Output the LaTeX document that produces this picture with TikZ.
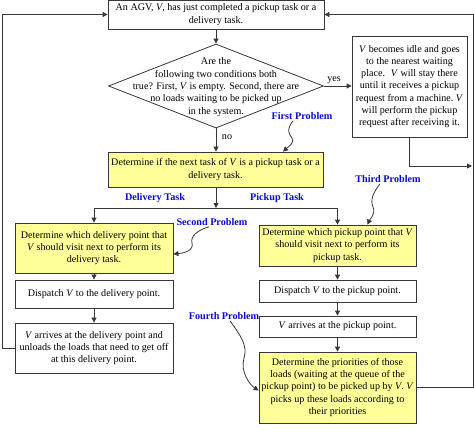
\documentclass[tikz,border=0pt]{standalone}
\usepackage{fontspec}
\setmainfont{Liberation Serif}
\usetikzlibrary{arrows.meta,shapes.geometric}
\definecolor{boxyellow}{RGB}{255,255,153}
\definecolor{probblue}{RGB}{10,10,210}
\definecolor{linegray}{RGB}{55,55,55}

\begin{document}
\begin{tikzpicture}[
  x=1pt, y=-1pt,
  b/.style={draw=linegray, line width=0.8pt, align=center, inner sep=2pt, font=\fontsize{10.1}{12.3}\selectfont, fill=white},
  yb/.style={b, fill=boxyellow},
  a/.style={-{Triangle[length=5pt,width=5pt]}, draw=linegray, line width=0.8pt},
  p/.style={font=\fontsize{10.2}{12}\selectfont\bfseries, text=probblue, inner sep=1pt},
  l/.style={font=\fontsize{10.1}{12}\selectfont, inner sep=1pt}
]
\useasboundingbox (0,0) rectangle (474,439);

% top of the loop
\node[b, minimum width=216pt, minimum height=29pt] (start) at (216,14.5) {An AGV, \textit{V}, has just completed a pickup task or a\\ delivery task.};
\node[draw=linegray, line width=0.8pt, fill=white, diamond, minimum width=215pt, minimum height=84pt, inner sep=0pt] (cond) at (216,86) {};
\node[b, draw=none, fill=none] (condtxt) at (216,87) {Are the\\ following two conditions both\\ true? First, \textit{V} is empty. Second, there are\\ no loads waiting to be picked up\\ in the system.};
\node[b, minimum width=115pt, minimum height=101pt] (idle) at (409.5,86.5) {\textit{V} becomes idle and goes\\ to the nearest waiting\\ place.~ \textit{V} will stay there\\ until it receives a pickup\\ request from a machine.~\textit{V}\\ will perform the pickup\\ request after receiving it.};
\node[yb, minimum width=215pt, minimum height=35pt] (decide) at (215.5,169.5) {Determine if the next task of \textit{V} is a pickup task or a\\ delivery task.};

% delivery branch
\node[yb, minimum width=158pt, minimum height=50pt] (delivery) at (94,248) {Determine which delivery point that\\ \textit{V} should visit next to perform its\\ delivery task.};
\node[b, minimum width=158pt, minimum height=28pt] (dispdel) at (94,294) {Dispatch \textit{V} to the delivery point.};
\node[b, minimum width=158pt, minimum height=50pt] (arrdel) at (94,348) {\textit{V} arrives at the delivery point and\\ unloads the loads that need to get off\\ at this delivery point.};

% pickup branch
\node[yb, minimum width=157pt, minimum height=41pt] (pickup) at (337.5,245.5) {Determine which pickup point that \textit{V}\\ should visit next to perform its\\ pickup task.};
\node[b, minimum width=157pt, minimum height=22pt] (disppick) at (337.5,291) {Dispatch \textit{V} to the pickup point.};
\node[b, minimum width=157pt, minimum height=21pt] (arrpick) at (337.5,326.5) {\textit{V} arrives at the pickup point.};
\node[yb, minimum width=157pt, minimum height=71pt] (prio) at (337.5,387.5) {Determine the priorities of those\\ loads (waiting at the queue of the\\ pickup point) to be picked up by \textit{V}. \textit{V}\\ picks up these loads according to\\ their priorities};

% labels
\node[l] (yes) at (334,80) {yes};
\node[l] (no) at (227,137) {no};
\node[p] (firstp) at (302,116) {First Problem};
\node[p] (deltask) at (155,198) {Delivery Task};
\node[p] (picktask) at (277,198) {Pickup Task};
\node[p] (secondp) at (212,222) {Second Problem};
\node[p] (thirdp) at (388,179) {Third Problem};
\node[p] (fourthp) at (224,316) {Fourth Problem};

\coordinate (split) at (216,208);
\coordinate (idleend) at (472,166);

\draw[a] (start) -- (cond);
\draw[a] (cond.east) -- (idle.west |- cond.east);
\draw[a] (cond.south) -- (decide.north -| cond.south);
\draw[a] (decide.south -| split) -- (split);
\draw[a] (split) -| (delivery.north);
\draw[a] (split) -| (pickup.north);
\draw[a] (delivery) -- (dispdel);
\draw[a] (dispdel) -- (arrdel);
\draw[a] (pickup) -- (disppick);
\draw[a] (disppick) -- (arrpick);
\draw[a] (arrpick) -- (prio);
\draw[a] (idle.south) |- (idleend);
\draw[a] (arrdel.west) -- (2,348) |- (start.west);
\draw[a] (prio.east) -- (473.6,387.5) |- (start.east);

% wavy pointers
\draw[a] ([xshift=-9pt]firstp.south) .. controls (286,130) and (289,134) .. (292,138) .. controls (295,143) and (288,147) .. ([xshift=67.5pt]decide.north);
\draw[a] ([xshift=-3pt]secondp.south) .. controls (198,230) and (190,236) .. (192,243) .. controls (194,250) and (185,253) .. ([yshift=-6pt]delivery.east);
\draw[a] ([xshift=-8pt]thirdp.south) .. controls (373,193) and (370,200) .. (373,207) .. controls (376,214) and (370,219) .. ([xshift=30pt]pickup.north);
\draw[a] ([xshift=6pt]fourthp.south) .. controls (240,335) and (248,345) .. (244,358) .. controls (240,372) and (250,385) .. ([yshift=-3pt]prio.west);
\end{tikzpicture}
\end{document}
